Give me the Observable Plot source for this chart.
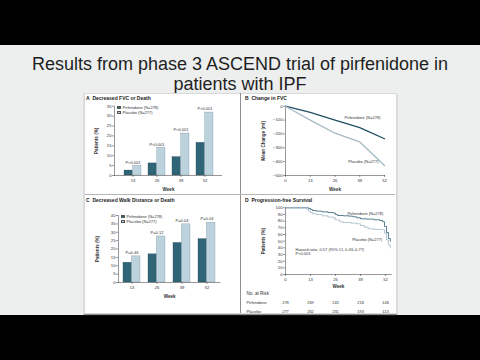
<!DOCTYPE html>
<html><head><meta charset="utf-8">
<script src="https://cdn.jsdelivr.net/npm/d3@7"></script>
<script src="https://cdn.jsdelivr.net/npm/@observablehq/plot@0.6"></script>
<style>
html,body{margin:0;padding:0;background:#000;}
#root{position:relative;width:480px;height:360px;overflow:hidden;background:#000;font-family:"Liberation Sans",Arial,sans-serif;}
#slide{position:absolute;left:0;top:45px;width:480px;height:270px;background:#edefee;}
#title{position:absolute;left:0;top:55px;width:480px;text-align:center;font-size:18px;line-height:19.5px;color:#1e1e1e;}
#fig{position:absolute;left:84px;top:93px;width:311px;height:219px;background:#fff;border:1px solid #d9d9d9;box-shadow:0 1px 1px #8a8a8a;}
.abs{position:absolute;}
.hl{position:absolute;background:#a8a8a8;}
.ptitle{position:absolute;font-size:5px;font-weight:bold;color:#222;white-space:nowrap;line-height:6px;}
.leg{position:absolute;font-size:4px;color:#333;white-space:nowrap;line-height:5px;}
.sw{display:inline-block;width:4px;height:3px;margin-right:1.5px;vertical-align:middle;border:0.3px solid #555;box-sizing:border-box;}
svg g[aria-label="x-axis label"] text, svg g[aria-label="y-axis label"] text{font-weight:bold;font-size:4.6px;}
</style>
</head><body>
<div id="root">
  <div id="slide"></div>
  <div id="title">Results from phase 3 ASCEND trial of pirfenidone in<br>patients with IPF</div>
  <div id="fig"></div>
  <div class="hl" style="left:240px;top:93px;width:0.8px;height:220px;background:#8f8f8f"></div>
  <div class="hl" style="left:85px;top:194px;width:310px;height:0.7px;background:#b5b5b5"></div>
  <div class="ptitle" style="left:86px;top:95px">A&nbsp; Decreased FVC or Death</div>
  <div class="ptitle" style="left:245px;top:95px">B&nbsp; Change in FVC</div>
  <div class="ptitle" style="left:86px;top:197px">C&nbsp; Decreased Walk Distance or Death</div>
  <div class="ptitle" style="left:245px;top:197px">D&nbsp; Progression-free Survival</div>
</div>
<script>
// ---------- data ----------
const barWeeks = ["13", "26", "39", "52"];
const seriesNames = ["Pirfenidone (N=278)", "Placebo (N=277)"];
const fvcPirf = [2.5, 6.1, 9.3, 16.5];
const fvcPlac = [4.9, 14.0, 21.2, 31.8];
const fvcP = ["P<0.001", "P<0.001", "P<0.001", "P<0.001"];
const walkPirf = [11.8, 16.8, 23.6, 25.9];
const walkPlac = [15.6, 27.5, 34.7, 35.7];
const walkP = ["P=0.46", "P=0.12", "P=0.04", "P=0.04"];
const lineWeeks = [0, 13, 26, 39, 52];
const chgPirf = [0, -45, -100, -155, -235];
const chgPlac = [0, -100, -195, -258, -428];
const pfsPirfWeeks = [0, 11, 12, 13, 14, 16, 19, 22, 25, 26, 27, 30, 33, 35, 37, 39, 42, 46, 49, 50.5, 51.5, 52.5, 53.5, 54.5];
const pfsPirf = [100, 100, 99, 97.5, 96, 95, 94, 93, 92, 90, 88.5, 88, 87.5, 86.5, 85, 83.5, 83, 82, 81, 79, 72, 63, 54, 50];
const pfsPlacWeeks = [0, 9, 11, 12, 13, 14, 16, 19, 22, 25, 26, 28, 30, 34, 37, 39, 41, 43, 46, 50, 51.5, 52.5, 53.5, 54.5];
const pfsPlac = [100, 100, 98, 95, 93, 91, 90, 88, 86, 84.5, 82, 79, 78, 77, 76, 73.5, 71, 68.5, 67.5, 67, 62, 52, 44, 40];
const riskRows = ["No. at Risk", "Pirfenidone", "Placebo"];
const riskWeeks = [0, 13, 26, 39, 52];
const riskPirf = [278, 269, 243, 218, 146];
const riskPlac = [277, 262, 231, 193, 113];
const hrText = "Hazard ratio, 0.57 (95% CI, 0.43\u20130.77)\nP<0.001";

// ---------- styles ----------
const FONT = "'Liberation Sans', Arial, sans-serif";
const C_PIRF = "#2f6577", C_PLAC = "#bcd2dd";
const C_LPIRF = "#214e63", C_LPLAC = "#a6bac5";
const root = document.getElementById("root");
function place(svg, left, top) {
  svg.style.position = "absolute";
  svg.style.left = left + "px";
  svg.style.top = top + "px";
  root.appendChild(svg);
}
const baseStyle = {fontFamily: FONT, fontSize: "4.2px", color: "#333", background: "transparent", overflow: "visible"};

function barChart(pirf, plac, pv, yMax, o) {
  const inner = o.width - o.mL - o.mR;
  const step = inner / (barWeeks.length - o.padIn + 2 * o.padOut);
  const half = step * (1 - o.padIn) / 2;
  const rows = barWeeks.map((w, i) => ({week: w, pirf: pirf[i], plac: plac[i], p: pv[i]}));
  return Plot.plot({
    width: o.width, height: o.height,
    marginLeft: o.mL, marginRight: o.mR, marginTop: o.mT, marginBottom: o.mB,
    style: baseStyle,
    x: {domain: barWeeks, paddingInner: o.padIn, paddingOuter: o.padOut},
    y: {domain: [0, yMax]},
    marks: [
      Plot.barY(rows, {x: "week", y: "pirf", fill: C_PIRF, stroke: "#1d3f4c", strokeWidth: 0.3, insetRight: half}),
      Plot.barY(rows, {x: "week", y: "plac", fill: C_PLAC, stroke: "#6d8794", strokeWidth: 0.3, insetLeft: half}),
      Plot.text(rows, {x: "week", y: "plac", text: "p", dy: -3.5, fontSize: 4}),
      Plot.frame({anchor: "left", strokeWidth: 0.5}),
      Plot.ruleY([0], {strokeWidth: 0.5}),
      Plot.axisY({ticks: d3.range(0, yMax + 1, 5), tickSize: 2, tickPadding: 1, strokeWidth: 0.5,
        label: "Patients (%)", labelAnchor: "center", labelOffset: o.yLab, labelArrow: false}),
      Plot.axisX({tickSize: 2, tickPadding: 1.5, strokeWidth: 0.5, label: "Week", labelAnchor: "center", labelOffset: 15, labelArrow: false})
    ]
  });
}

// Panel A
place(barChart(fvcPirf, fvcPlac, fvcP, 35,
  {width: 156, height: 100, mL: 30, mR: 18, mT: 12.7, mB: 18, padIn: 0.3, padOut: 0.33, yLab: 20}), 84, 93);
// Panel C
place(barChart(walkPirf, walkPlac, walkP, 40,
  {width: 156, height: 107, mL: 34, mR: 19.6, mT: 20, mB: 20, padIn: 0.33, padOut: 0.21, yLab: 23}), 84, 195);

// legends (A and C)
function legend(left, top) {
  const d = document.createElement("div");
  d.className = "leg";
  d.style.left = left + "px"; d.style.top = top + "px";
  d.innerHTML = seriesNames.map((n, i) =>
    `<div><span class="sw" style="background:${i ? C_PLAC : C_PIRF}"></span>${n}</div>`).join("");
  root.appendChild(d);
}
legend(117, 104.5);
legend(121, 214);

// Panel B
const lineRows = lineWeeks.flatMap((w, i) => [
  {week: w, value: chgPirf[i], series: seriesNames[0]},
  {week: w, value: chgPlac[i], series: seriesNames[1]}]);
place(Plot.plot({
  width: 155, height: 100, marginLeft: 45, marginRight: 11, marginTop: 12.7, marginBottom: 18,
  style: baseStyle,
  x: {domain: [0, 52]},
  y: {domain: [-500, 0]},
  color: {domain: seriesNames, range: [C_LPIRF, C_LPLAC]},
  marks: [
    Plot.frame({anchor: "left", strokeWidth: 0.5}),
    Plot.frame({anchor: "bottom", strokeWidth: 0.5}),
    Plot.axisY({ticks: d3.range(-500, 1, 100), tickSize: 2, tickPadding: 1, strokeWidth: 0.5,
      label: "Mean Change (ml)", labelAnchor: "center", labelOffset: 24, labelArrow: false}),
    Plot.axisX({ticks: lineWeeks, tickSize: 2, tickPadding: 1.5, strokeWidth: 0.5,
      label: "Week", labelAnchor: "center", labelOffset: 15, labelArrow: false}),
    Plot.line(lineRows, {x: "week", y: "value", stroke: "series", strokeWidth: 1.3}),
    Plot.text([seriesNames[0]], {frameAnchor: "top-right", textAnchor: "end", dx: -4, dy: 10, fontSize: 4}),
    Plot.text([seriesNames[1]], {frameAnchor: "bottom-right", textAnchor: "end", dx: -6, dy: -12.3, fontSize: 4})
  ]
}), 240, 93);

// Panel D
const pfsRows = [
  ...pfsPirfWeeks.map((w, i) => ({week: w, value: pfsPirf[i], series: seriesNames[0]})),
  ...pfsPlacWeeks.map((w, i) => ({week: w, value: pfsPlac[i], series: seriesNames[1]}))];
place(Plot.plot({
  width: 155, height: 95, marginLeft: 45, marginRight: 4.2, marginTop: 12.3, marginBottom: 16,
  style: baseStyle,
  x: {domain: [0, 55]},
  y: {domain: [0, 100]},
  color: {domain: seriesNames, range: ["#2d5d72", "#9fb9c6"]},
  marks: [
    Plot.frame({anchor: "left", strokeWidth: 0.5}),
    Plot.frame({anchor: "bottom", strokeWidth: 0.5}),
    Plot.axisY({ticks: d3.range(0, 101, 10), tickSize: 2, tickPadding: 1, strokeWidth: 0.5,
      label: "Patients (%)", labelAnchor: "center", labelOffset: 24, labelArrow: false}),
    Plot.axisX({ticks: riskWeeks, tickSize: 2, tickPadding: 1.5, strokeWidth: 0.5,
      label: "Week", labelAnchor: "center", labelOffset: 13, labelArrow: false}),
    Plot.line(pfsRows, {x: "week", y: "value", stroke: "series", strokeWidth: 0.8, curve: "step-after"}),
    Plot.text([seriesNames[0]], {frameAnchor: "top-right", textAnchor: "end", dx: -8, dy: 4.4, fontSize: 4}),
    Plot.text([seriesNames[1]], {frameAnchor: "top-right", textAnchor: "end", dx: -9, dy: 30.4, fontSize: 4}),
    Plot.text([hrText], {frameAnchor: "left", textAnchor: "start", lineAnchor: "top", dx: 10, dy: 7, fontSize: 4})
  ]
}), 240, 195);

// Risk table (shares D's x scale)
const riskCells = riskWeeks.flatMap((w, i) => [
  {week: w, row: "Pirfenidone", n: riskPirf[i]},
  {week: w, row: "Placebo", n: riskPlac[i]}]);
place(Plot.plot({
  width: 155, height: 20, marginLeft: 45, marginRight: 4.2, marginTop: 2, marginBottom: 0,
  style: baseStyle,
  x: {domain: [0, 55], axis: null},
  y: {domain: riskRows, axis: null, padding: 0},
  marks: [
    Plot.text(riskRows, {y: d => d, text: d => d, frameAnchor: "left", textAnchor: "start", dx: -39,
      fontWeight: d => d === riskRows[0] ? "bold" : "normal", fontSize: d => d === riskRows[0] ? 4.6 : 4}),
    Plot.text(riskCells, {x: "week", y: "row", text: "n", fontSize: 4})
  ]
}), 240, 291);
</script>
</body></html>
